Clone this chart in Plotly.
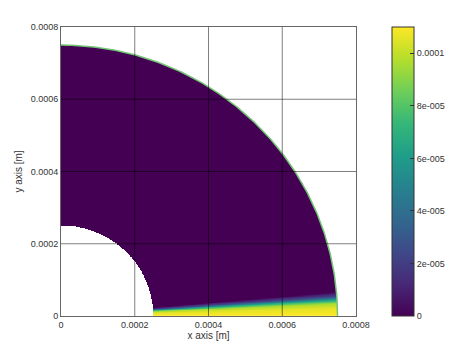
import numpy as np
import plotly.graph_objects as go

# geometry of the quarter annulus [m]
r_inner = 0.00025
r_outer = 0.00075

# field profile: value vs polar angle (degrees)
profile_angle_deg = [0.0, 1.5, 2.5, 3.2, 4.0, 5.0, 90.0]
profile_value = [1.10e-4, 1.06e-4, 0.96e-4, 0.70e-4, 0.25e-4, 0.0, 0.0]

# axis ticks
tick_vals = [0, 0.0002, 0.0004, 0.0006, 0.0008]
tick_text = ["0", "0.0002", "0.0004", "0.0006", "0.0008"]
cbar_vals = [0, 2e-5, 4e-5, 6e-5, 8e-5, 1e-4]
cbar_text = ["0", "2e-005", "4e-005", "6e-005", "8e-005", "0.0001"]
c_min, c_max = 0.0, 1.1e-4

n = 700
xs = np.linspace(0, r_outer, n)
ys = np.linspace(0, r_outer, n)
X, Y = np.meshgrid(xs, ys)
R = np.hypot(X, Y)
TH = np.degrees(np.arctan2(Y, X))
Z = np.interp(TH, profile_angle_deg, profile_value)
Z[(R < r_inner) | (R > r_outer)] = np.nan

fig = go.Figure()
fig.add_trace(go.Heatmap(
    x=xs, y=ys, z=Z, colorscale="Viridis", zmin=c_min, zmax=c_max,
    hoverinfo="skip",
    colorbar=dict(
        x=1.122, xanchor="left", xpad=0, y=0.5, yanchor="middle", ypad=0,
        len=1.0, lenmode="fraction",
        thickness=22, outlinecolor="#333", outlinewidth=1,
        tickmode="array", tickvals=cbar_vals, ticktext=cbar_text,
        ticks="inside", ticklen=4,
        tickcolor="#333", tickfont=dict(family="Liberation Sans", size=9, color="#333"),
    ),
))

# green outline on outer arc
phi = np.linspace(0, np.pi / 2, 200)
fig.add_trace(go.Scatter(
    x=r_outer * np.cos(phi), y=r_outer * np.sin(phi), mode="lines",
    line=dict(color="#74c476", width=1.5), hoverinfo="skip", showlegend=False,
))

# grid lines drawn above the field
shapes = []
for v in tick_vals[1:-1]:
    shapes.append(dict(type="line", xref="x", yref="paper", x0=v, x1=v, y0=0, y1=1,
                       line=dict(color="rgba(0,0,0,0.5)", width=1), layer="above"))
    shapes.append(dict(type="line", xref="paper", yref="y", x0=0, x1=1, y0=v, y1=v,
                       line=dict(color="rgba(0,0,0,0.5)", width=1), layer="above"))

axis_common = dict(
    range=[0, 0.0008], tickmode="array", tickvals=tick_vals, ticktext=tick_text,
    showgrid=False, zeroline=False, showline=True, linecolor="#666", linewidth=1,
    mirror=True, ticks="", layer="above traces",
    tickfont=dict(family="Liberation Sans", size=9, color="#333"),
    title_font=dict(family="Liberation Sans", size=10, color="#333"),
)

fig.update_layout(
    width=474, height=354,
    margin=dict(l=61, r=118, t=27, b=38, autoexpand=False),
    paper_bgcolor="white", plot_bgcolor="white",
    showlegend=False, shapes=shapes,
    xaxis=dict(**axis_common, title=dict(text="x axis [m]", standoff=2)),
    yaxis=dict(**axis_common, title=dict(text="y axis [m]", standoff=6)),
)

fig.write_html("out.html")
